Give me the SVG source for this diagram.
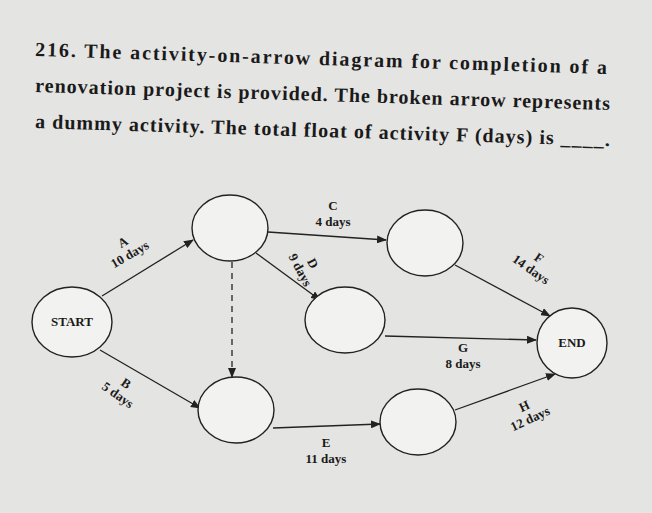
<svg xmlns="http://www.w3.org/2000/svg" width="652" height="513" viewBox="0 0 652 513">
<defs>
<marker id="ah" markerWidth="10" markerHeight="8" refX="9" refY="4" orient="auto" markerUnits="userSpaceOnUse"><path d="M0,0 L10,4 L0,8 Z" fill="#222"/></marker>
<style>
.n{fill:#f2f2f0;stroke:#222;stroke-width:1.4}
.c{stroke:#222;stroke-width:1.3;fill:none;marker-end:url(#ah)}
.t{font-family:"Liberation Serif",serif;font-weight:bold;fill:#1a1a1a}
.l{font-family:"Liberation Serif",serif;font-weight:bold;font-size:13px;fill:#1a1a1a;text-anchor:middle}
</style>
</defs>
<rect width="652" height="513" fill="#e4e4e2"/>
<g class="t" font-size="20">
<text x="35" y="56" transform="rotate(1.8 35 56)" textLength="572" lengthAdjust="spacing">216. The activity-on-arrow diagram for completion of a</text>
<text x="35" y="92" transform="rotate(1.8 35 92)" textLength="575" lengthAdjust="spacing">renovation project is provided. The broken arrow represents</text>
<text x="35" y="128" transform="rotate(1.8 35 128)" textLength="575" lengthAdjust="spacing">a dummy activity. The total float of activity F (days) is ____.</text>
</g>
<g id="connectors">
<line class="c" x1="102" y1="296" x2="193" y2="240"/>
<line class="c" x1="268" y1="232" x2="386" y2="240"/>
<line class="c" x1="256" y1="253" x2="320" y2="300"/>
<line class="c" x1="232" y1="262" x2="232" y2="377" stroke-dasharray="6,5"/>
<line class="c" x1="100" y1="350" x2="200" y2="408"/>
<line class="c" x1="455" y1="265" x2="550" y2="316"/>
<line class="c" x1="385" y1="336" x2="536" y2="340"/>
<line class="c" x1="273" y1="428" x2="380" y2="424"/>
<line class="c" x1="455" y1="410" x2="555" y2="374"/>
<g class="l">
<text transform="translate(132,258) rotate(-30)"><tspan x="0" y="-14">A</tspan><tspan x="0" y="0">10 days</tspan></text>
<text x="333" y="210">C</text><text x="333" y="226">4 days</text>
<text transform="translate(300,270) rotate(62)"><tspan x="0" y="-10">D</tspan><tspan x="0" y="4">9 days</tspan></text>
<text transform="translate(120,392) rotate(35)"><tspan x="0" y="-6">B</tspan><tspan x="0" y="8">5 days</tspan></text>
<text transform="translate(532,268) rotate(35)"><tspan x="0" y="-8">F</tspan><tspan x="0" y="6">14 days</tspan></text>
<text x="463" y="352">G</text><text x="463" y="368">8 days</text>
<text x="326" y="447">E</text><text x="326" y="463">11 days</text>
<text transform="translate(526,410) rotate(-25)"><tspan x="0" y="0">H</tspan><tspan x="0" y="14">12 days</tspan></text>
</g>
</g>
<g id="start"><ellipse class="n" cx="72" cy="322" rx="40" ry="35"/><text class="l" x="72" y="326">START</text></g>
<g id="n1"><ellipse class="n" cx="230" cy="228" rx="38" ry="33"/></g>
<g id="n2"><ellipse class="n" cx="425" cy="243" rx="38" ry="33"/></g>
<g id="n3"><ellipse class="n" cx="345" cy="320" rx="40" ry="33"/></g>
<g id="end"><ellipse class="n" cx="572" cy="343" rx="35" ry="35"/><text class="l" x="572" y="347">END</text></g>
<g id="n4"><ellipse class="n" cx="236" cy="410" rx="38" ry="33"/></g>
<g id="n5"><ellipse class="n" cx="418" cy="422" rx="38" ry="33"/></g>
</svg>
